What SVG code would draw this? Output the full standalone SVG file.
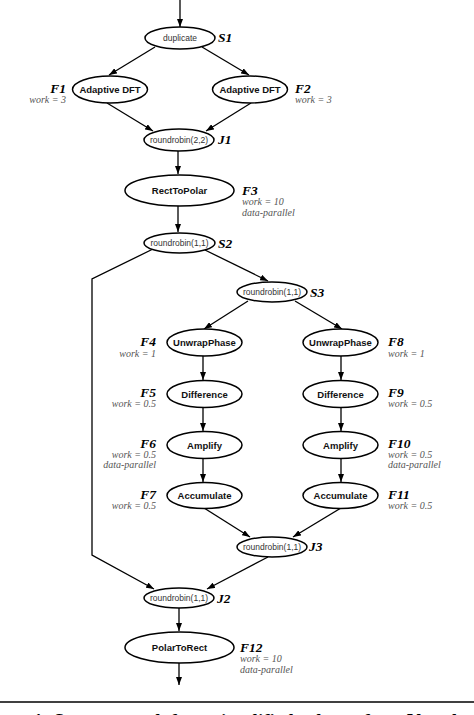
<svg xmlns="http://www.w3.org/2000/svg" width="474" height="715" viewBox="0 0 474 715">
<style>
.nd{fill:#fff;stroke:#000;stroke-width:1.5}
.lb{font-family:"Liberation Sans",Arial,sans-serif;font-weight:bold;font-size:9.5px;fill:#111;text-anchor:middle}
.sj{font-family:"Liberation Sans",Arial,sans-serif;font-size:8.5px;fill:#333;text-anchor:middle}
.id{font-family:"Liberation Serif","DejaVu Serif",serif;font-weight:bold;font-style:italic;font-size:13.5px;fill:#000}
.wk{font-family:"Liberation Serif","DejaVu Serif",serif;font-style:italic;font-size:10px;fill:#555}
.r{text-anchor:end}
.e{fill:none;stroke:#000;stroke-width:1.3;marker-end:url(#ah)}
</style>
<defs>
<marker id="ah" markerUnits="userSpaceOnUse" markerWidth="8" markerHeight="6" refX="8" refY="3" orient="auto">
<path d="M0,0 L8,3 L0,6 z" fill="#000"/>
</marker>
</defs>
<rect width="474" height="715" fill="#fff"/>
<g id="connectors">
<line class="e" x1="180" y1="0" x2="180" y2="27"/>
<line class="e" x1="155" y1="47" x2="109" y2="75"/>
<line class="e" x1="202" y1="47" x2="249" y2="75"/>
<line class="e" x1="107" y1="103" x2="153" y2="131"/>
<line class="e" x1="251" y1="103" x2="206" y2="131"/>
<line class="e" x1="178" y1="151" x2="178" y2="174"/>
<line class="e" x1="178" y1="206" x2="178" y2="232"/>
<line class="e" x1="205" y1="250" x2="268" y2="281"/>
<polyline class="e" points="153,249 92,279 92,555 154,589"/>
<line class="e" x1="248" y1="301" x2="204" y2="329"/>
<line class="e" x1="295" y1="301" x2="342" y2="329"/>
<line class="e" x1="203" y1="356" x2="203" y2="380"/>
<line class="e" x1="203" y1="407" x2="203" y2="431"/>
<line class="e" x1="203" y1="458" x2="203" y2="482"/>
<line class="e" x1="341" y1="356" x2="341" y2="380"/>
<line class="e" x1="341" y1="407" x2="341" y2="431"/>
<line class="e" x1="341" y1="458" x2="341" y2="482"/>
<line class="e" x1="204" y1="508" x2="250" y2="537"/>
<line class="e" x1="341" y1="508" x2="293" y2="537"/>
<line class="e" x1="268" y1="557" x2="207" y2="589"/>
<line class="e" x1="179" y1="608" x2="179" y2="631"/>
<line class="e" x1="179" y1="663" x2="179" y2="685"/>
</g>
<g id="S1">
<ellipse class="nd" cx="180" cy="38" rx="35" ry="11"/>
<text class="sj" x="180" y="41">duplicate</text>
<text class="id" x="218" y="42">S1</text>
</g>
<g id="F1">
<ellipse class="nd" cx="110" cy="89.5" rx="37.5" ry="13.5"/>
<text class="lb" x="110" y="93">Adaptive DFT</text>
<text class="id r" x="66" y="93">F1</text>
<text class="wk r" x="66" y="103">work = 3</text>
</g>
<g id="F2">
<ellipse class="nd" cx="250" cy="89.5" rx="37.5" ry="13.5"/>
<text class="lb" x="250" y="93">Adaptive DFT</text>
<text class="id" x="295" y="93">F2</text>
<text class="wk" x="295" y="103">work = 3</text>
</g>
<g id="J1">
<ellipse class="nd" cx="179" cy="140" rx="35" ry="11"/>
<text class="sj" x="179" y="143">roundrobin(2,2)</text>
<text class="id" x="218" y="144">J1</text>
</g>
<g id="F3">
<ellipse class="nd" cx="179.5" cy="190.5" rx="54.5" ry="15.5"/>
<text class="lb" x="179.5" y="194">RectToPolar</text>
<text class="id" x="242" y="195">F3</text>
<text class="wk" x="242" y="205">work = 10</text>
<text class="wk" x="242" y="216">data-parallel</text>
</g>
<g id="S2">
<ellipse class="nd" cx="179.5" cy="243" rx="35.5" ry="10"/>
<text class="sj" x="179.5" y="246">roundrobin(1,1)</text>
<text class="id" x="218" y="248">S2</text>
</g>
<g id="S3">
<ellipse class="nd" cx="272" cy="292" rx="35" ry="10"/>
<text class="sj" x="272" y="295">roundrobin(1,1)</text>
<text class="id" x="310" y="297">S3</text>
</g>
<g id="F4">
<ellipse class="nd" cx="204.5" cy="342.5" rx="37.5" ry="13.5"/>
<text class="lb" x="204.5" y="346">UnwrapPhase</text>
<text class="id r" x="156" y="346">F4</text>
<text class="wk r" x="156" y="357">work = 1</text>
</g>
<g id="F5">
<ellipse class="nd" cx="204.5" cy="394" rx="37.5" ry="13.5"/>
<text class="lb" x="204.5" y="397.5">Difference</text>
<text class="id r" x="156" y="397">F5</text>
<text class="wk r" x="156" y="407">work = 0.5</text>
</g>
<g id="F6">
<ellipse class="nd" cx="204.5" cy="445" rx="37.5" ry="13.5"/>
<text class="lb" x="204.5" y="448.5">Amplify</text>
<text class="id r" x="156" y="448">F6</text>
<text class="wk r" x="156" y="458">work = 0.5</text>
<text class="wk r" x="156" y="468">data-parallel</text>
</g>
<g id="F7">
<ellipse class="nd" cx="204.5" cy="495.5" rx="37.5" ry="13"/>
<text class="lb" x="204.5" y="499">Accumulate</text>
<text class="id r" x="156" y="499">F7</text>
<text class="wk r" x="156" y="509">work = 0.5</text>
</g>
<g id="F8">
<ellipse class="nd" cx="340.5" cy="342.5" rx="37.5" ry="13.5"/>
<text class="lb" x="340.5" y="346">UnwrapPhase</text>
<text class="id" x="388" y="346">F8</text>
<text class="wk" x="388" y="357">work = 1</text>
</g>
<g id="F9">
<ellipse class="nd" cx="340.5" cy="394" rx="37.5" ry="13.5"/>
<text class="lb" x="340.5" y="397.5">Difference</text>
<text class="id" x="388" y="397">F9</text>
<text class="wk" x="388" y="407">work = 0.5</text>
</g>
<g id="F10">
<ellipse class="nd" cx="340.5" cy="445" rx="37.5" ry="13.5"/>
<text class="lb" x="340.5" y="448.5">Amplify</text>
<text class="id" x="388" y="448">F10</text>
<text class="wk" x="388" y="458">work = 0.5</text>
<text class="wk" x="388" y="468">data-parallel</text>
</g>
<g id="F11">
<ellipse class="nd" cx="340.5" cy="495.5" rx="37.5" ry="13"/>
<text class="lb" x="340.5" y="499">Accumulate</text>
<text class="id" x="388" y="499">F11</text>
<text class="wk" x="388" y="509">work = 0.5</text>
</g>
<g id="J3">
<ellipse class="nd" cx="272" cy="547" rx="35" ry="10"/>
<text class="sj" x="272" y="550">roundrobin(1,1)</text>
<text class="id" x="309" y="551">J3</text>
</g>
<g id="J2">
<ellipse class="nd" cx="179" cy="598" rx="35" ry="10"/>
<text class="sj" x="179" y="601">roundrobin(1,1)</text>
<text class="id" x="217" y="603">J2</text>
</g>
<g id="F12">
<ellipse class="nd" cx="179.5" cy="647.5" rx="54.5" ry="15.5"/>
<text class="lb" x="179.5" y="651">PolarToRect</text>
<text class="id" x="240" y="652">F12</text>
<text class="wk" x="240" y="662">work = 10</text>
<text class="wk" x="240" y="673">data-parallel</text>
</g>
<g id="caption">
<line x1="0" y1="702" x2="474" y2="702" stroke="#000" stroke-width="1.6"/>
<text x="-25" y="727" font-family="'Liberation Serif','Times New Roman',serif" font-weight="bold" font-size="19px" fill="#000">Figure 1: Stream graph for a simplified subset of our Vocoder</text>
</g>
</svg>
